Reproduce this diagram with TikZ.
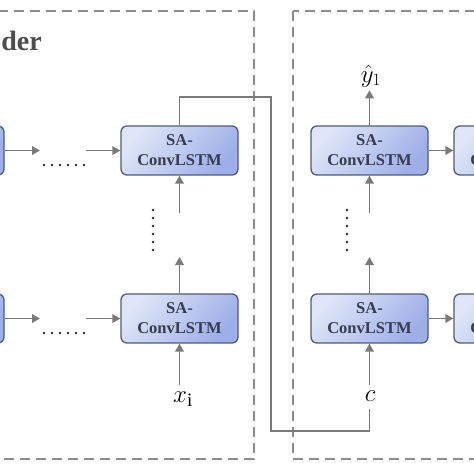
\documentclass[tikz,border=0pt]{standalone}
\usepackage{fontspec}
\setmainfont{Liberation Serif}
\usetikzlibrary{arrows.meta}
\definecolor{boxlight}{HTML}{DFE6F8}
\definecolor{boxdark}{HTML}{9DAEE8}
\definecolor{boxborder}{HTML}{4F5C7E}
\definecolor{boxtext}{HTML}{363B50}
\definecolor{linegray}{HTML}{7A7A7A}
\definecolor{dashgray}{HTML}{8C8C8C}
\definecolor{titlegray}{HTML}{4D4D4D}
\tikzset{
  cellbox/.style={draw=boxborder, line width=1.3pt, rounded corners=6pt,
    left color=boxlight, right color=boxdark, shading angle=50,
    minimum width=117pt, minimum height=49pt, inner sep=0pt, align=center,
    text=boxtext, font=\bfseries\fontsize{16.5}{20}\selectfont},
  arr/.style={draw=linegray, line width=1.9pt, -{Triangle[length=8pt,width=8.5pt]}},
  conn/.style={draw=linegray, line width=1.9pt},
  dashbox/.style={draw=dashgray, line width=1.8pt, dash pattern=on 10pt off 6pt},
  dotmark/.style={fill=black!85},
  mathlabel/.style={inner sep=3pt, font=\fontsize{27}{30}\selectfont}
}
\begin{document}
\begin{tikzpicture}[x=1pt,y=-1pt]
\useasboundingbox (0,0) rectangle (474,474);
\clip (0,0) rectangle (474,474);
\fill[white] (0,0) rectangle (474,474);
% dashed frames
\draw[dashbox] (-300,11) rectangle (254,459);
\draw[dashbox] (293,11) rectangle (800,459);
% title (cropped)
\node[anchor=base east, inner sep=0pt, text=titlegray,
  font=\bfseries\fontsize{28}{32}\selectfont] (title) at (42,50) {der};
% boxes
\node[cellbox] (FL1) at (-54.5,150.5) {};
\node[cellbox] (FL2) at (-54.5,318.5) {};
\node[cellbox] (L1) at (179.5,150.5) {SA-\\ConvLSTM};
\node[cellbox] (L2) at (179.5,318.5) {SA-\\ConvLSTM};
\node[cellbox] (R1) at (369.5,150.5) {SA-\\ConvLSTM};
\node[cellbox] (R2) at (369.5,318.5) {SA-\\ConvLSTM};
\node[cellbox] (FR1) at (512.5,150.5) {SA-\\ConvLSTM};
\node[cellbox] (FR2) at (512.5,318.5) {SA-\\ConvLSTM};
% labels
\node[mathlabel] (xi) at (183,399) {$x_{\mathrm{i}}$};
\node[mathlabel] (c) at (370,396) {$c$};
\node[mathlabel] (yhat) at (371,76) {$\hat{y}_1$};
% free ends
\coordinate (a1) at (40,150.5);
\coordinate (a2) at (86,150.5);
\coordinate (b1) at (40,318.5);
\coordinate (b2) at (86,318.5);
\coordinate (lv1) at (179.5,257);
\coordinate (lv2) at (179.5,213);
\coordinate (rv1) at (369.5,257);
\coordinate (rv2) at (369.5,213);
\coordinate (k1) at (271,97);
\coordinate (k2) at (271,431);
\coordinate (cin) at (369.5,385);
\coordinate (xin) at (179.5,385);
\coordinate (cend) at (369.5,409);
% horizontal arrows
\draw[arr] (FL1.east) -- (a1);
\draw[arr] (a2) -- (L1.west);
\draw[arr] (FL2.east) -- (b1);
\draw[arr] (b2) -- (L2.west);
\draw[arr] (R1.east) -- (FR1.west);
\draw[arr] (R2.east) -- (FR2.west);
% vertical arrows
\draw[arr] (L2.north) -- (lv1);
\draw[arr] (lv2) -- (L1.south);
\draw[arr] (R2.north) -- (rv1);
\draw[arr] (rv2) -- (R1.south);
\draw[arr] (xin) -- (L2.south);
\draw[arr] (cin) -- (R2.south);
\draw[arr] (R1.north) -- (yhat.south -| R1.north);
% context connector
\draw[conn] (L1.north) |- (k1) -- (k2) -| (cend);
% dots
\foreach \i in {0,...,5} {
  \fill[dotmark] (44+8*\i,165) circle (1.4pt);
  \fill[dotmark] (44+8*\i,333) circle (1.4pt);
  \fill[dotmark] (153,210+8*\i) circle (1.4pt);
  \fill[dotmark] (347,210+8*\i) circle (1.4pt);
}
\end{tikzpicture}
\end{document}
